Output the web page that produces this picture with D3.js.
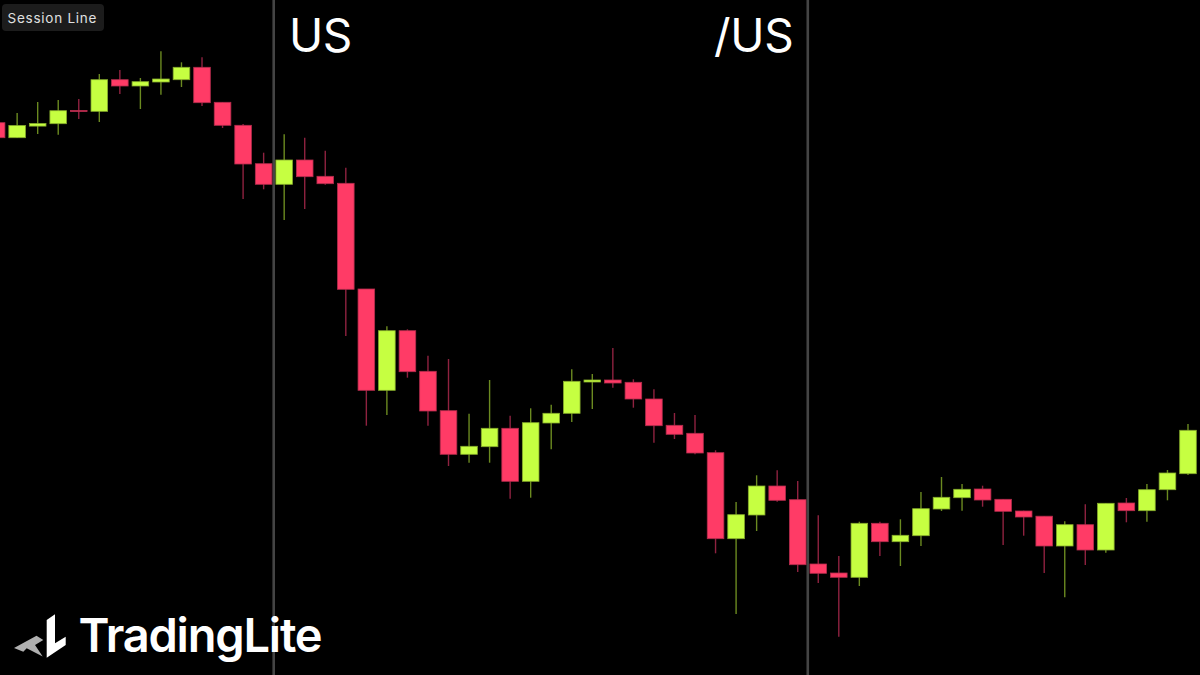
<!DOCTYPE html>
<meta charset="utf-8">
<style>
html, body { margin: 0; background: #000; overflow: hidden; }
text { font-family: Inter, sans-serif; }
</style>
<body>
<div id="chart"></div>
<script src="https://d3js.org/d3.v7.min.js"></script>
<script>

// prices, the chart has no price axis so units are arbitrary
var open  = [552.3,537.3,548.9,551.3,564.5,563.7,595.3,589,593,595.3,607.7,572.7,549.7,511.3,490.7,515,498.7,491.7,386,284.7,344.3,303.7,264.3,220.7,228.3,246.7,193.7,252,261.7,293,295,292.7,276,249.7,241.7,222.3,136.3,160,189,175.3,111,102,97.7,151.7,133.3,139.3,166,177.3,186,175.7,164,158.8,129,150.3,125,172,164.3,185.3,201.3];
var close = [537.3,549.5,551.5,564.3,563.5,595.3,589,593.3,596,607.7,572.3,549.7,511,490.7,515,498.3,491.3,385.7,284.7,344.3,303.3,264,220.7,228.7,246.7,193.7,252.3,261.7,293.7,295,292,276,249.3,240.7,222,136.3,160.3,189,174.7,110.3,101.7,97.7,151.7,133.3,139.7,166.3,177.7,185.7,175,163.7,158,129,150.3,125,171.7,164.3,185.3,202,244.7];
var high  = [552.3,562,573,575,576,601,605,597,623.7,612.7,617.7,572.7,551,522.3,540.7,537.3,524.3,507.3,386,348.7,345.7,319.3,316,261.3,295,259.3,266.7,270.3,305.7,301,327,295.7,285.7,262,260,224.7,173,199.7,204.7,194,159.7,119,153.3,153.3,155.7,183,198,191,189.3,175.7,164.3,158.8,153.7,170.7,171.7,177,191,205,251];
var low   = [537,537,541,540.3,556,553,581,566,580.3,588,569,547,476,485.7,455,466,490.3,339,249.3,260,297.3,249.3,209,212.3,212.3,176.3,177.3,225.7,253,266,287.3,267.3,232.3,236,220.7,121.7,61,144,173.3,103,92,38.3,89,119,109,129,164,164.3,168.3,130,139.3,102,77.7,110,122.3,152.7,153.3,174.7,200];
var sessionAt = [13.5, 39.5];
var sessionLabels = ["US", "/US"];

var width = 1200, height = 675;
var upColor = "#c6ff41", downColor = "#ff3b66";
var upWick = "#6b8a20", downWick = "#8f2240";
var upEdge = "#86ab2c", downEdge = "#b32c4c";

var x = d3.scaleLinear().domain([0, 58]).range([-3.4, 1188]);
var y = d3.scaleLinear().domain([0, 675]).range([675, 0]);

var svg = d3.select("#chart").append("svg")
    .attr("width", width)
    .attr("height", height)
    .style("display", "block")
    .style("background", "#000");

var candles = d3.range(open.length);
var isUp = function(i) { return close[i] >= open[i]; };

svg.selectAll(".session")
    .data(sessionAt)
  .enter().append("line")
    .attr("class", "session")
    .attr("x1", function(d) { return x(d) - 0.2; })
    .attr("x2", function(d) { return x(d) - 0.2; })
    .attr("y1", 0)
    .attr("y2", height)
    .attr("stroke", "#444")
    .attr("stroke-width", 2.6);

svg.selectAll(".session-label")
    .data(sessionAt)
  .enter().append("text")
    .attr("class", "session-label")
    .attr("x", function(d) { return x(d); })
    .attr("y", 52)
    .attr("text-anchor", function(d, i) { return i ? "end" : "start"; })
    .attr("dx", function(d, i) { return i ? -14.5 : 15; })
    .attr("font-size", 46)
    .attr("letter-spacing", -0.3)
    .attr("fill", "#fff")
    .text(function(d, i) { return sessionLabels[i]; });

svg.selectAll(".wick")
    .data(candles)
  .enter().append("line")
    .attr("class", "wick")
    .attr("x1", function(i) { return x(i); })
    .attr("x2", function(i) { return x(i); })
    .attr("y1", function(i) { return y(high[i]); })
    .attr("y2", function(i) { return y(low[i]); })
    .attr("stroke", function(i) { return isUp(i) ? upWick : downWick; })
    .attr("stroke-width", 1.4);

svg.selectAll(".body")
    .data(candles)
  .enter().append("rect")
    .attr("class", "body")
    .attr("x", function(i) { return x(i) - 8.3; })
    .attr("width", 16.6)
    .attr("y", function(i) { return y(Math.max(open[i], close[i])); })
    .attr("height", function(i) { return Math.abs(y(open[i]) - y(close[i])); })
    .attr("fill", function(i) { return isUp(i) ? upColor : downColor; })
    .attr("stroke", function(i) { return isUp(i) ? upEdge : downEdge; })
    .attr("stroke-width", 0.8);

// session line badge
svg.append("rect")
    .attr("x", 2).attr("y", 4)
    .attr("width", 102).attr("height", 27)
    .attr("rx", 4)
    .attr("fill", "#1c1c1c");
svg.append("text")
    .attr("x", 7.5).attr("y", 23)
    .attr("font-size", 13.5)
    .attr("letter-spacing", 0.75)
    .attr("fill", "#e0e0e0")
    .text("Session Line");

// logo
var logo = svg.append("g");
logo.append("path")
    .attr("d", "M14 648L36.5 635.7L43.3 640L35 645L42.7 656.5L26.7 648.3L23.3 651.7Z")
    .attr("fill", "#b0b0b0");
logo.append("path")
    .attr("d", "M55 614.3L46.7 620L46.7 657.7L65.7 645L65.7 636.7L55 643.3Z")
    .attr("fill", "#fff");
logo.append("text")
    .attr("x", 78.5).attr("y", 652)
    .attr("font-size", 47)
    .attr("font-weight", 600)
    .attr("letter-spacing", -1.2)
    .attr("fill", "#fff")
    .text("TradingLite");

</script>
</body>
